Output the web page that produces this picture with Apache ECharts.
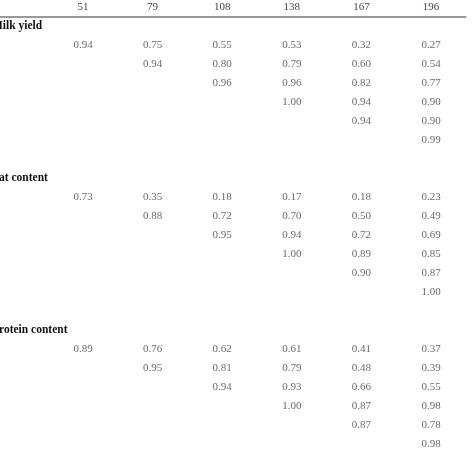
<!DOCTYPE html>
<html><head><meta charset="utf-8">
<script src="https://cdn.jsdelivr.net/npm/echarts@6/dist/echarts.min.js"></script>
<style>html,body{margin:0;background:#fff}#c{width:474px;height:474px}</style>
</head><body><div id="c"></div>
<script>
var days = ['', '51', '79', '108', '138', '167', '196'];
var traits = ['Milk yield', 'Fat content', 'Protein content'];
var milk = [
	[0.94, 0.75, 0.55, 0.53, 0.32, 0.27],
	[0.94, 0.80, 0.79, 0.60, 0.54],
	[0.96, 0.96, 0.82, 0.77],
	[1.00, 0.94, 0.90],
	[0.94, 0.90],
	[0.99]
];
var fat = [
	[0.73, 0.35, 0.18, 0.17, 0.18, 0.23],
	[0.88, 0.72, 0.70, 0.50, 0.49],
	[0.95, 0.94, 0.72, 0.69],
	[1.00, 0.89, 0.85],
	[0.90, 0.87],
	[1.00]
];
var protein = [
	[0.89, 0.76, 0.62, 0.61, 0.41, 0.37],
	[0.95, 0.81, 0.79, 0.48, 0.39],
	[0.94, 0.93, 0.66, 0.55],
	[1.00, 0.87, 0.98],
	[0.87, 0.78],
	[0.98]
];

// 24 row slots: section label row, 6 value rows, one blank row
var rows = [];
var rowLabels = [];
var points = [];
[milk, fat, protein].forEach(function(block, s) {
	var base = s * 8;
	for (var k = 0; k < 8; k++) {
		rows.push('r' + (base + k));
		rowLabels.push(k === 0 ? traits[s] : '');
	}
	block.forEach(function(vals, i) {
		vals.forEach(function(v, j) {
			points.push([days[1 + i + j], 'r' + (base + 1 + i), v]);
		});
	});
});

var chart = echarts.init(document.getElementById('c'));
chart.setOption({
	animation: false,
	grid: { left: -21.4, right: 8.2, top: 16.5, height: 456, outerBoundsMode: 'none', containLabel: false },
	xAxis: {
		type: 'category', position: 'top', data: days,
		axisLine: { lineStyle: { color: '#777', width: 1.5 } },
		axisTick: { show: false },
		axisLabel: { margin: 4, fontFamily: 'Liberation Serif', fontSize: 11, color: '#444' },
		splitLine: { show: false }
	},
	yAxis: {
		type: 'category', inverse: true, data: rows,
		axisLine: { show: false }, axisTick: { show: false },
		axisLabel: {
			align: 'left', margin: -13.4, fontFamily: 'Liberation Serif', fontSize: 11.5,
			fontWeight: 'bold', color: '#111',
			formatter: function(v, i) { return rowLabels[i]; }
		}
	},
	series: [{
		type: 'scatter', data: points, symbolSize: 0,
		label: {
			show: true, position: 'inside', fontFamily: 'Liberation Serif', fontSize: 11, color: '#444',
			formatter: function(p) { return p.value[2].toFixed(2); }
		}
	}]
});
</script></body></html>
